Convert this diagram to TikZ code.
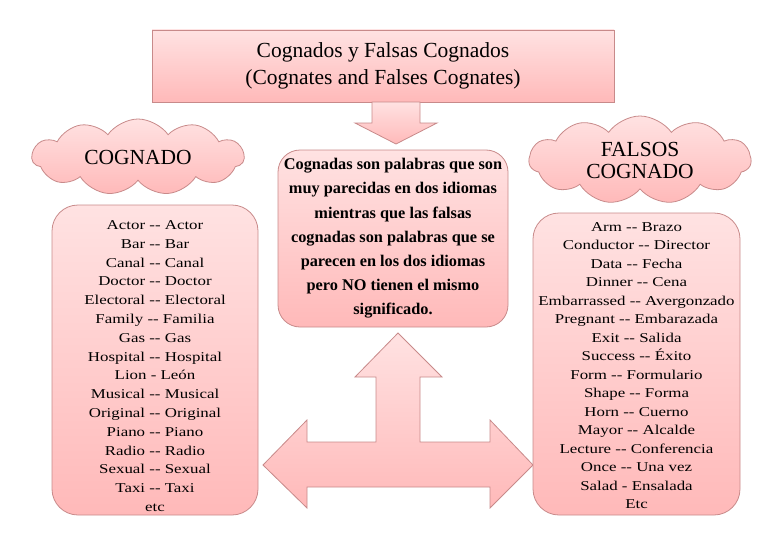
\documentclass[tikz,border=0pt]{standalone}
\usepackage{fontspec}
\setmainfont{Liberation Serif}
\newfontfamily\wideserif[FakeStretch=1.25]{Liberation Serif}
\usetikzlibrary{shapes.symbols}
\definecolor{pinktop}{HTML}{FFE2E2}
\definecolor{pinkbot}{HTML}{FFB9B9}
\definecolor{edge}{HTML}{C88A8A}
\tikzset{
  pinkfill/.style={draw=edge,line width=0.8pt,top color=pinktop,bottom color=pinkbot},
  list/.style={align=center,font=\wideserif\fontsize{13.5}{18.8}\selectfont,anchor=north},
}
\begin{document}
\begin{tikzpicture}[x=1pt,y=-1pt]
\useasboundingbox (0,0) rectangle (768,543);
% title
\node[pinkfill,minimum width=462pt,minimum height=72pt,inner sep=0pt,align=center,font=\fontsize{21.5}{27}\selectfont] (title) at (383,66) {Cognados y Falsas Cognados\\(Cognates and Falses Cognates)};
% down arrow
\draw[pinkfill] (372,102) -- (420,102) -- (420,123) -- (437,123) -- (396,144) -- (355,123) -- (372,123) -- cycle;
% clouds
\node[cloud,cloud puffs=11,cloud puff arc=110,aspect=2.8,pinkfill,minimum width=212pt,minimum height=76pt,inner sep=0pt,font=\fontsize{21.5}{22}\selectfont] (cl) at (138,157) {COGNADO};
\node[cloud,cloud puffs=11,cloud puff arc=110,aspect=2.5,pinkfill,minimum width=222pt,minimum height=88pt,inner sep=0pt,align=center,font=\fontsize{21.5}{22}\selectfont] (cr) at (640,160) {FALSOS\\COGNADO};
% center box
\node[pinkfill,rounded corners=22pt,minimum width=230pt,minimum height=177pt,inner sep=0pt,align=center,font=\bfseries\fontsize{16.3}{24.2}\selectfont] (mid) at (393,238.5) {Cognadas son palabras que son\\muy parecidas en dos idiomas\\mientras que las falsas\\cognadas son palabras que se\\parecen en los dos idiomas\\pero NO tienen el mismo\\significado.};
% big arrow
\draw[pinkfill] (398,333) -- (442,377) -- (420,377) -- (420,442) -- (490,442) -- (490,420) -- (533,465) -- (490,508) -- (490,487) -- (307,487) -- (307,508) -- (263,465) -- (307,420) -- (307,442) -- (376,442) -- (376,377) -- (355,377) -- cycle;
% left box
\node[pinkfill,rounded corners=26pt,minimum width=206pt,minimum height=310pt,inner sep=0pt] (lb) at (155,360) {};
\begin{scope}
\clip (52,205) rectangle (258,513);
\node[list] (lt) at (155,217) {Actor -- Actor\\Bar -- Bar\\Canal -- Canal\\Doctor -- Doctor\\Electoral -- Electoral\\Family -- Familia\\Gas -- Gas\\Hospital -- Hospital\\Lion - León\\Musical -- Musical\\Original -- Original\\Piano -- Piano\\Radio -- Radio\\Sexual -- Sexual\\Taxi -- Taxi\\etc};
\end{scope}
% right box
\node[pinkfill,rounded corners=26pt,minimum width=207pt,minimum height=302pt,inner sep=0pt] (rb) at (636.5,364) {};
\begin{scope}
\clip (533,215) rectangle (740,513);
\node[list,font=\wideserif\fontsize{13.5}{18.5}\selectfont] (rt) at (636.5,219) {Arm -- Brazo\\Conductor -- Director\\Data -- Fecha\\Dinner -- Cena\\Embarrassed -- Avergonzado\\Pregnant -- Embarazada\\Exit -- Salida\\Success -- Éxito\\Form -- Formulario\\Shape -- Forma\\Horn -- Cuerno\\Mayor -- Alcalde\\Lecture -- Conferencia\\Once -- Una vez\\Salad - Ensalada\\Etc};
\end{scope}
\end{tikzpicture}
\end{document}
